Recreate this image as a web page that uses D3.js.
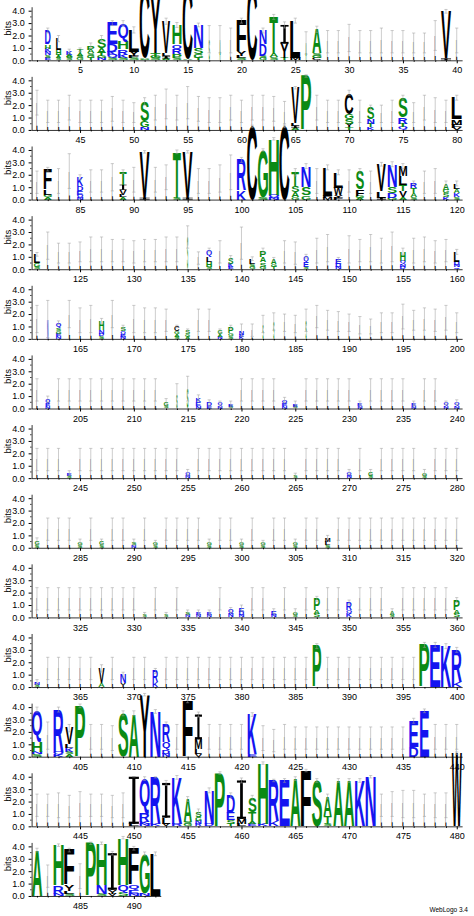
<!DOCTYPE html>
<html><head><meta charset="utf-8">
<script src="https://cdn.jsdelivr.net/npm/d3@7"></script>
<style>body{margin:0;background:#fff}svg{display:block}</style>
</head><body>
<script>
// ---------------- DATA ----------------
// letter stacks per position (letter + height in bits)
const stacks = [
// 1-40
"", "S.25 N.25 K.25 E.2 H.35 D1.1", "S.15 A.15 T.15 H.4 L.9", "S.15 G.15 A.15 K.3", "G.15 S.2 A.2 T.3", "T.15 G.2 S.25 A.25 P.35", "N.15 G.2 T.25 A.4 S.75", "S.2 Q.25 K.25 D.6 E1.7", "S.2 K.25 R.45 H.6 Q1.5", "S.15 F.2 Y.35 L1.75",
"S.1 A.1 C5.7", "S.15 G.15 T.25 Y4.6", "A.15 I.2 L.2 V2.6", "S.15 P.35 R.35 Q.45 H1.55", "A.1 C5.8", "T.2 G.3 S.5 N1.85", "S1.7", "A1.7", "L1.6", "S.15 L.2 Y.35 F2.5",
"C5.9", "G.15 S.2 D.95 N1.1", "S.25 A.25 T3.0", "T.15 I1.5 Y1.2", "M.2 L3.0", "A1.4", "C.15 G.2 S.2 A1.95", "L1.5", "L1.5", "L1.8",
"L1.5", "L1.5", "L1.6", "L1.5", "L1.5", "L1.4", "L1.4", "L2.0", "I.15 V3.8", "L1.6",
// 41-80
"L2.2", "L1.5", "L1.5", "L1.8", "L1.5", "L1.5", "L1.5", "L1.7", "L1.5", "L1.4",
"N.2 G.5 S1.6", "L1.8", "L2.1", "L1.8", "L2.2", "L1.7", "L1.6", "L1.6", "L1.8", "L1.5",
"L1.8", "L1.8", "L1.7", "L1.4", "A.15 I.2 L.2 V2.85", "P4.35", "L1.8", "L1.5", "L1.5", "T.2 S.4 G.4 Y.3 C1.7",
"L1.5", "K.2 N.45 T.25 S.9", "L1.3", "L1.5", "Q.2 R.5 T.3 S1.6", "L1.4", "L1.8", "L1.6", "L1.5", "V.15 M.45 F.25 L1.75",
// 81-120
"L1.4", "A.2 G.2 L.4 F1.65", "L1.5", "L2.3", "N.2 Q.2 E.3 D.4 K.7", "L1.5", "L1.5", "L1.8", "A.2 L.2 V.4 I.4 T1.05", "L1.6",
"I.15 V3.7", "L1.6", "L1.8", "S.15 T3.7", "I.15 V3.7", "L1.5", "L1.5", "L1.7", "L2.2", "K.75 R2.45",
"C5.9", "S.15 G3.85", "N.2 Q.2 H4.5", "C5.9", "G.2 A.4 S.5 T1.1", "G.35 S.65 N1.7", "L1.5", "M.15 F.15 L2.3", "F.15 Y.2 W.6 L1.25", "L1.5",
"A.15 G.15 F.5 S1.5", "L1.4", "I.15 L.55 V2.15", "G.15 D.4 S.5 N1.8", "A.2 V.5 T.5 L.7 M.8", "S.2 A.3 T.4 R.45", "L1.4", "L1.5", "K.2 S.3 G.3 A.5", "S.2 A.35 K.3 L.45",
// 121-160
"S.2 G.3 L.7", "L1.9", "L1.3", "L1.3", "L1.4", "L1.6", "L1.6", "L1.5", "L1.5", "L1.4",
"L1.5", "L1.5", "L1.6", "L1.6", "S2.6", "L.9", "S.15 H.4 L.45 Q.55", "L1.4", "E.2 K.25 S.5", "L2.1",
"G.15 S.25 L.45", "G.2 S.35 A.4 P.55", "T.15 G.25 A.4", "L1.4", "L1.3", "S.2 E.35 Q.5", "L1.5", "L1.7", "N.2 D.25 E.35", "L1.6",
"L1.5", "L1.7", "L1.5", "L1.8", "D.2 N.2 Q.3 H.75", "L1.5", "L1.6", "L1.4", "L1.5", "Q.15 N.2 D.25 L.8",
// 161-200
"L1.6", "N1.6", "N.2 E.2 G.25 S.25 Q.4", "L2.0", "L1.5", "L1.6", "S.2 D.2 N.35 H.7", "L2.0", "N.15 E.2 Q.25 S.35", "L1.6",
"L1.5", "L1.5", "L1.5", "S.15 A.2 G.25 C.4", "A.15 G.2 S.35", "L1.5", "L1.5", "N.15 A.2 G.3", "S.2 G.25 P.5", "K.15 E.2 N.35",
"L.7", "S1.2", "S1.4", "L1.3", "L1.2", "S1.5", "L1.8", "L1.5", "L1.4", "L1.3",
"L1.1", "L1.0", "L1.3", "L1.3", "L1.8", "L1.5", "L1.6", "L1.5", "L1.7", "L1.3",
// 201-240
"L1.5", "N.2 E.2 Q.35", "L1.5", "L1.5", "L1.5", "L1.5", "L1.5", "L1.5", "L1.5", "L1.5",
"L1.5", "L1.5", "S.2 G.3", "S1.0", "S1.6", "N.2 E.3 K.35", "E.2 D.25", "N.2 Q.2", "S.15 E.2", "L1.5",
"L1.5", "L1.5", "L1.5", "N.2 E.2 Q.3", "S.15 E.2", "L1.5", "L1.5", "L1.5", "L1.5", "L1.5",
"N.2 E.2", "L1.5", "L1.5", "L1.5", "L1.5", "N.2 E.2", "L1.5", "L1.5", "N.2 Q.25", "N.2 Q.3",
// 241-280
"L1.5", "L1.5", "L1.5", "S.2 E.2", "L1.5", "L1.5", "L1.5", "L1.5", "L1.5", "L1.5",
"L1.5", "L1.5", "L1.5", "L1.5", "N.2 Q.25", "L1.5", "L1.5", "L1.5", "L1.5", "L1.5",
"L1.5", "L1.5", "L1.5", "L1.5", "S.2", "L1.5", "L1.5", "L1.5", "L1.5", "N.2 Q.3",
"L1.5", "S.2 G.3", "L1.5", "L1.5", "L1.5", "L1.5", "S.2 G.25", "L1.5", "L1.5", "L1.5",
// 281-320
"S.2 G.35", "L1.5", "L1.5", "L1.5", "S.2 G.25", "L1.5", "S.2 G.3", "L1.5", "L1.5", "N.2 S.25",
"L1.5", "S.2 G.2", "L1.5", "L1.5", "L1.5", "L1.5", "S.2 G.25", "L1.5", "L1.5", "S.2 G.25",
"L1.5", "S.2 G.2", "L1.5", "L1.5", "S.2 G.25", "L1.5", "L1.5", "S.2 L.3 M.35", "L1.5", "L1.5",
"L1.5", "L1.5", "L1.5", "L1.5", "L1.5", "L1.5", "L1.5", "L1.5", "L1.5", "L1.5",
// 321-360
"L1.5", "L1.5", "L1.5", "L1.5", "L1.5", "L1.5", "L1.5", "L1.5", "L1.5", "L1.5",
"S.2", "L1.5", "S.2", "L1.5", "N.2 S.2", "N.2 E.2", "N.2 E.2", "L1.5", "N.25 Q.35", "N.2 D.25 E.3",
"L1.5", "L1.5", "N.2 E.3", "L1.5", "S.2 G.25", "L1.5", "S.3 A.3 P.9", "L1.5", "L1.5", "K.3 Q.3 R.6",
"L1.5", "L1.5", "L1.5", "S.2 A.3", "L1.5", "L1.5", "L1.5", "L1.5", "L1.5", "S.3 A.3 P.8",
// 361-400
"S.2 N.2", "L1.5", "L1.5", "L1.5", "L1.5", "L1.5", "A.3 V1.2", "L1.5", "Y.3 N.7", "L1.5",
"L1.5", "K.4 R.9", "L1.5", "L1.5", "L1.5", "L1.5", "L1.5", "L1.5", "L1.5", "L1.5",
"L1.5", "L1.5", "L1.5", "L1.5", "L1.5", "L1.5", "P3.3", "L1.5", "L1.5", "L1.5",
"L1.5", "L1.5", "L1.5", "L1.5", "L1.5", "L1.5", "P3.4", "E3.4", "K3.3", "K.4 R2.6",
// 401-440
"S.2 N.2 H.8 Q2.6", "L1.7", "K.2 Q.2 R3.4", "A.2 S.2 K.3 L.3 V1.3", "P4.1", "L1.6", "L1.6", "L1.5", "S3.5", "A3.5",
"Y5.0", "N3.65", "N.25 D.3 Q.65 R1.4", "L1.6", "F4.45", "V.2 L.4 M.8 I2.0", "L1.6", "L1.6", "L1.6", "L1.6",
"E.2 K3.2", "L1.5", "L1.3", "L1.6", "L1.5", "L1.5", "L1.5", "L1.5", "L1.5", "L1.5",
"L1.5", "L1.5", "L1.5", "L1.5", "L1.5", "D.8 E2.1", "E3.7", "L1.6", "L1.6", "L1.6",
// 441-480
"L1.7", "L1.7", "L1.7", "L1.6", "L1.8", "L1.7", "L1.7", "L1.6", "L1.7", "L.2 I3.8",
"N.15 K.2 R.7 Q2.8", "K.15 R3.8", "V.2 L.5 I2.8", "R.15 K3.8", "G.15 S.2 A1.85", "R.2 N.25 G.3 S.45", "D.15 N2.75", "P4.3", "T.2 S.3 E.6 D1.4", "L.2 M.4 I3.1",
"E.2 A.2 T.7 S1.2", "K.2 H4.9", "K.45 R3.25", "E3.7", "A3.85", "F4.5", "S3.7", "S.2 T.6 A1.6", "A3.7", "A3.7",
"K3.7", "N4.0", "L1.7", "L1.8", "L1.8", "L1.8", "L1.7", "L1.7", "L1.7", "W5.9",
// 481-492
"A3.7", "L1.6", "N.2 R.65 H3.25", "S.2 L.2 Y.5 F2.8", "L1.6", "P4.25", "S.2 N.7 H3.35", "V.2 Y.3 I2.95", "S.3 Q.6 H3.8", "N.2 E.3 Q.4 F2.95",
"N.2 G3.2", "L3.4"
];

// fraction of non-gap symbols per position (stack width)
const coverage = [
0,.55,.5,.6,.65,.7,.85,1,1,1, 1,1,.8,.9,1,.9,.1,.1,.1,.95, 1,.7,.85,.8,1,.1,.9,.1,.1,.1, .1,.1,.1,.1,.1,.1,.1,.1,1,.1,
.1,.1,.1,.1,.1,.1,.1,.1,.1,.1, .85,.1,.1,.1,.1,.1,.1,.1,.1,.1, .1,.1,.1,.1,.8,1,.1,.1,.1,.85, .1,.7,.1,.1,.9,.1,.1,.1,.1,1,
.1,.8,.1,.1,.6,.1,.1,.1,.7,.1, 1,.1,.1,.8,1,.1,.1,.1,.1,.9, 1,1,1,1,.75,.9,.1,.9,.9,.1, .8,.1,.9,.9,.8,.65,.1,.1,.6,.6,
.6,.1,.1,.1,.1,.1,.1,.1,.1,.1, .1,.1,.1,.1,.1,.1,.55,.1,.5,.1, .55,.6,.55,.1,.1,.5,.1,.1,.55,.1, .1,.1,.1,.1,.55,.1,.1,.1,.1,.55,
.1,.12,.5,.1,.1,.1,.5,.1,.5,.1, .1,.1,.1,.5,.45,.1,.1,.45,.5,.45, .1,.1,.1,.1,.1,.1,.1,.1,.1,.1, .1,.1,.1,.1,.1,.1,.1,.1,.1,.1,
.1,.45,.1,.1,.1,.1,.1,.1,.1,.1, .1,.1,.45,.12,.15,.5,.5,.45,.45,.1, .1,.1,.1,.5,.45,.1,.1,.1,.1,.1, .45,.1,.1,.1,.1,.45,.1,.1,.45,.5,
.1,.1,.1,.45,.1,.1,.1,.1,.1,.1, .1,.1,.1,.1,.45,.1,.1,.1,.1,.1, .1,.1,.1,.1,.4,.1,.1,.1,.1,.45, .1,.45,.1,.1,.1,.1,.45,.1,.1,.1,
.45,.1,.1,.1,.45,.1,.45,.1,.1,.45, .1,.45,.1,.1,.1,.1,.45,.1,.1,.45, .1,.45,.1,.1,.45,.1,.1,.5,.1,.1, .1,.1,.1,.1,.1,.1,.1,.1,.1,.1,
.1,.1,.1,.1,.1,.1,.1,.1,.1,.1, .4,.1,.4,.1,.45,.45,.45,.1,.5,.5, .1,.1,.5,.1,.45,.1,.6,.1,.1,.55, .1,.1,.1,.45,.1,.1,.1,.1,.1,.6,
.5,.1,.1,.1,.1,.1,.6,.1,.55,.1, .1,.55,.1,.1,.1,.1,.1,.1,.1,.1, .1,.1,.1,.1,.1,.1,.85,.1,.1,.1, .1,.1,.1,.1,.1,.1,1,1,1,1,
1,.1,1,.8,1,.1,.1,.1,1,1, 1,1,.75,.1,1,.7,.1,.1,.1,.1, .9,.1,.1,.1,.1,.1,.1,.1,.1,.1, .1,.1,.1,.1,.1,.9,.9,.1,.1,.1,
.1,.1,.1,.1,.1,.1,.1,.1,.1,1, 1,1,.8,1,.8,.6,.9,1,.8,.9, .8,1,1,1,1,1,1,.8,1,1, 1,1,.1,.1,.1,.1,.1,.1,.1,1,
1,.1,1,1,.1,1,1,.9,1,1, 1,1
];

// top of the error bar per position (bits)
const errorTop = [
0,2.6,2.0,.9,1.0,1.4,2.0,3.2,3.2,2.7, 6,5.3,3.4,3.05,6,3.0,2.8,2.8,2.6,3.4, 6,2.6,3.7,3.1,3.4,2.3,2.75,2.4,2.4,2.9, 2.4,2.4,2.6,2.4,2.4,2.2,2.2,3.2,4.1,2.6,
3.2,2.4,2.4,2.8,2.4,2.4,2.4,2.7,2.4,2.2, 2.6,2.8,3.3,2.8,3.5,2.7,2.6,2.6,2.8,2.4, 2.8,2.8,2.7,2.3,3.5,4.45,2.8,2.4,2.4,3.2, 2.4,2.0,2.0,2.4,2.8,2.2,2.8,2.6,2.4,2.8,
2.3,2.6,2.5,3.7,2.0,2.4,2.4,2.9,2.4,2.6, 3.95,2.6,2.8,4.0,3.95,2.5,2.5,2.8,3.6,3.4, 6,4.1,5.0,6,2.5,2.9,2.5,2.8,2.4,2.4, 2.5,2.3,3.0,3.05,2.9,1.5,2.3,2.5,1.5,1.5,
1.35,3.0,2.1,2.1,2.2,2.6,2.6,2.4,2.4,2.3, 2.4,2.4,2.6,2.6,3.5,1.4,1.7,2.3,1.1,3.4, 1.0,1.7,.95,2.3,2.2,1.2,2.5,2.8,.95,2.7, 2.4,2.8,2.5,3.0,1.7,2.5,2.6,2.3,2.4,1.6,
2.7,3.1,1.45,3.1,2.5,2.7,1.65,3.1,1.1,2.7, 2.5,2.5,2.4,1.1,.8,2.4,2.4,.8,1.1,1.2, 1.2,1.9,2.1,2.0,1.9,2.4,2.7,2.3,2.2,2.0, 1.8,1.6,2.1,2.1,2.8,2.3,2.5,2.4,2.7,2.1,
2.4,1.0,2.4,2.4,2.4,2.4,2.4,2.4,2.4,2.4, 2.4,2.4,.8,2.0,2.6,1.1,.7,.6,.6,2.4, 2.4,2.4,2.4,.9,.6,2.4,2.4,2.4,2.4,2.4, .6,2.4,2.4,2.4,2.4,.6,2.4,2.4,.6,.7,
2.4,2.4,2.4,.6,2.4,2.4,2.4,2.4,2.4,2.4, 2.4,2.4,2.4,2.4,.7,2.4,2.4,2.4,2.4,2.4, 2.4,2.4,2.4,2.4,.4,2.4,2.4,2.4,2.4,.7, 2.4,.7,2.4,2.4,2.4,2.4,.7,2.4,2.4,2.4,
.8,2.4,2.4,2.4,.7,2.4,.7,2.4,2.4,.7, 2.4,.6,2.4,2.4,2.4,2.4,.7,2.4,2.4,.7, 2.4,.6,2.4,2.4,.7,2.4,2.4,1.0,2.4,2.4, 2.4,2.4,2.4,2.4,2.4,2.4,2.4,2.4,2.4,2.4,
2.4,2.4,2.4,2.4,2.4,2.4,2.4,2.4,2.4,2.4, .4,2.4,.4,2.4,.6,.6,.6,2.4,.8,1.0, 2.4,2.4,.7,2.4,.7,2.4,1.7,2.4,2.4,1.4, 2.4,2.4,2.4,.7,2.4,2.4,2.4,2.4,2.4,1.6,
.6,2.4,2.4,2.4,2.4,2.4,1.8,2.4,1.2,2.4, 2.4,1.5,2.4,2.4,2.4,2.4,2.4,2.4,2.4,2.4, 2.4,2.4,2.4,2.4,2.4,2.4,3.5,2.4,2.4,2.4, 2.4,2.4,2.4,2.4,2.4,2.4,3.6,3.6,3.5,3.2,
4.0,2.8,4.0,2.6,4.25,2.6,2.6,2.5,3.7,3.7, 5.1,3.8,2.8,2.6,4.55,3.6,2.6,2.6,2.6,2.6, 3.55,2.5,2.2,2.6,2.4,2.4,2.4,2.4,2.4,2.4, 2.4,2.4,2.4,2.4,2.4,3.1,3.85,2.6,2.6,2.6,
2.6,2.6,2.7,2.5,2.8,2.6,2.6,2.5,2.7,4.0, 4.0,4.0,3.7,4.1,2.4,1.4,3.1,4.4,2.7,3.9, 2.5,5.2,3.8,3.85,4.0,4.6,3.85,2.6,3.85,3.85, 3.85,4.1,2.6,2.8,2.9,2.9,2.6,2.7,2.7,6,
3.85,2.5,4.2,3.85,2.6,4.35,4.35,3.6,4.8,4.0, 3.55,3.55
];

const yTickValues = [0, 1, 2, 3, 4];
const nPositions = 492, perRow = 40;

// ---------------- LAYOUT ----------------
const W = 474, H = 916;
const xLeft = 31.6, colW = 10.763;
const firstZero = 60.3, rowPitch = 69.64, bitsPx = 12.4, yMax = 4.32;
const stackFrac = 0.94;

const colorOf = ch => "RKDENQ".includes(ch) ? "#1414f0" : ("SGHTAP".includes(ch) ? "#0a8a14" : "#000000");

const svg = d3.select("body").append("svg").attr("width", W).attr("height", H)
  .style("font-family", "'Liberation Sans', Arial, Helvetica, sans-serif");

// glyph ink metrics
const cv = document.createElement("canvas").getContext("2d");
cv.font = "bold 100px 'Liberation Sans', Arial, sans-serif";
const gcache = {};
function gm(ch){
  if(!gcache[ch]){ const m = cv.measureText(ch);
    gcache[ch] = {L:m.actualBoundingBoxLeft, R:m.actualBoundingBoxRight, A:m.actualBoundingBoxAscent, D:m.actualBoundingBoxDescent}; }
  return gcache[ch];
}
function drawLetter(g, ch, x0, y0, w, h){
  if (w <= 0 || h <= 0) return;
  const col = colorOf(ch);
  if (ch === "I") {
    const cap = Math.max(Math.min(h*0.09, 2.2), 0.6), stem = w*0.3;
    g.append("rect").attr("x", x0).attr("y", y0).attr("width", w).attr("height", cap).attr("fill", col);
    g.append("rect").attr("x", x0).attr("y", y0+h-cap).attr("width", w).attr("height", cap).attr("fill", col);
    g.append("rect").attr("x", x0+(w-stem)/2).attr("y", y0).attr("width", stem).attr("height", h).attr("fill", col);
    return;
  }
  const m = gm(ch);
  const sx = w/(m.L+m.R), sy = h/(m.A+m.D);
  g.append("text").text(ch)
    .attr("transform", `translate(${x0 + m.L*sx},${y0 + m.A*sy}) scale(${sx},${sy})`)
    .attr("font-size", 100).attr("font-weight", "bold")
    .attr("font-family", "'Liberation Sans', Arial, sans-serif")
    .attr("fill", col);
}
function parseStack(s){
  return s.trim() === "" ? [] : s.trim().split(/\s+/).map(t => ({ch: t[0], h: +t.slice(1)}));
}

const nRows = Math.ceil(nPositions / perRow);
for (let r = 0; r < nRows; r++) {
  const start = r*perRow + 1, end = Math.min(start + perRow - 1, nPositions);
  const zero = firstZero + r*rowPitch;
  const x = d3.scaleLinear().domain([start - 0.5, end + 0.5]).range([xLeft, xLeft + (end - start + 1)*colW]);
  const y = d3.scaleLinear().domain([0, yMax]).range([zero, zero - yMax*bitsPx]);
  const g = svg.append("g");

  const gl = g.append("g");
  const ge = g.append("g");
  for (let p = start; p <= end; p++) {
    const items = parseStack(stacks[p-1]).sort((a, b) => a.h - b.h);
    const w = colW*stackFrac*coverage[p-1];
    const cx = x(p);
    let cum = 0;
    items.forEach(it => {
      const yt = y(cum + it.h), yb = y(cum);
      drawLetter(gl, it.ch, cx - w/2, yt, w, yb - yt);
      cum += it.h;
    });
    const top = errorTop[p-1];
    if (top > 0) {
      const e = top - cum, lo = cum - e;
      const yTop = y(top), yLo = y(Math.max(lo, 0));
      const st = {stroke: "#a0a0a0", "stroke-width": 0.7, "stroke-opacity": 0.75};
      const ln = (x1, x2, y1, y2) => { const l = ge.append("line").attr("x1", x1).attr("x2", x2).attr("y1", y1).attr("y2", y2);
        Object.entries(st).forEach(([k, v]) => l.attr(k, v)); };
      ln(cx, cx, yTop, yLo);
      ln(cx-1.6, cx+1.6, yTop, yTop);
      if (lo > 0) ln(cx-1.6, cx+1.6, yLo, yLo);
    }
  }

  // x axis
  const xa = g.append("g").attr("transform", `translate(0,${zero})`)
    .call(d3.axisBottom(x).tickValues(d3.range(start, end + 1)).tickSizeInner(2).tickSizeOuter(0)
      .tickFormat(d => d % 5 === 0 ? d : ""));
  xa.selectAll("text").attr("font-size", 9).attr("font-family", "'Liberation Sans', Arial, sans-serif").attr("dy", "0.9em").attr("fill", "#000");
  xa.selectAll(".tick line").attr("y2", d => d % 5 === 0 ? 3 : 1.5);
  xa.select(".domain").attr("stroke-width", 0.8);

  // y axis
  const ya = g.append("g").attr("transform", `translate(${xLeft},0)`)
    .call(d3.axisLeft(y).tickValues(yTickValues).tickFormat(d3.format(".1f")).tickSizeInner(3).tickSizeOuter(0));
  ya.selectAll("text").attr("font-size", 9).attr("font-family", "'Liberation Sans', Arial, sans-serif").attr("dx", "-0.1em").attr("fill", "#000");
  ya.select(".domain").attr("stroke-width", 0.8);
  const minor = d3.range(0, 4.3, 0.5).filter(v => !yTickValues.includes(v));
  ya.selectAll(".minor").data(minor).join("line").attr("class", "minor")
    .attr("x1", -1.6).attr("x2", 0).attr("y1", d => y(d)).attr("y2", d => y(d)).attr("stroke", "#000").attr("stroke-width", 0.7);

  g.append("text").text("bits").attr("font-size", 9.5)
    .attr("transform", `translate(10.5,${zero - 32}) rotate(-90)`).attr("text-anchor", "middle");
}

svg.append("text").text("WebLogo 3.4").attr("x", 468).attr("y", 912).attr("text-anchor", "end")
  .attr("font-size", 6.5).attr("fill", "#000");
</script>
</body></html>
